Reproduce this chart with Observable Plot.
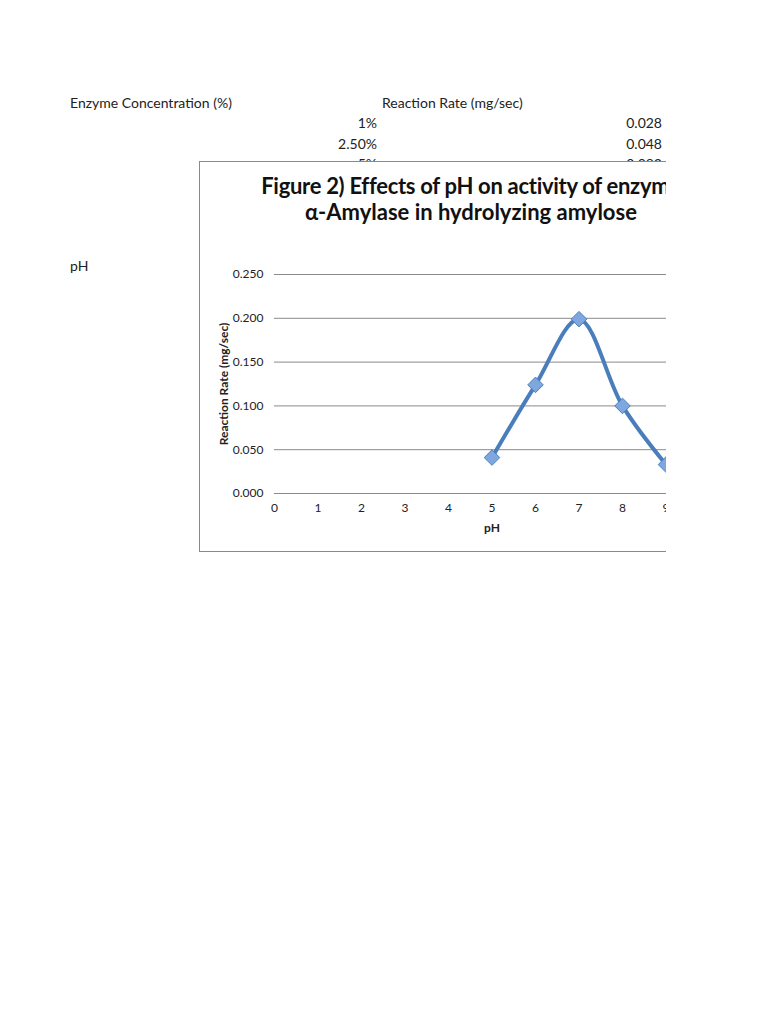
<!DOCTYPE html>
<html><head><meta charset="utf-8">
<script src="https://cdn.jsdelivr.net/npm/d3@7"></script>
<script src="https://cdn.jsdelivr.net/npm/@observablehq/plot@0.6"></script>
<style>
body{margin:0;background:#fff;font-family:Lato,"Open Sans",sans-serif;color:#222;}
.t{position:absolute;font-size:14px;white-space:nowrap;}
.r{text-align:right;}
#box{position:absolute;left:199px;top:161px;width:466px;height:389px;border-left:1px solid #8a8a8a;border-top:1px solid #8a8a8a;border-bottom:1px solid #8a8a8a;background:#fff;overflow:hidden;}
#title{position:absolute;left:0;top:11px;width:542px;text-align:center;font-weight:bold;font-size:22px;line-height:26px;color:#111;white-space:nowrap;}
#title .l1{letter-spacing:-0.3px;}
#chart{position:absolute;left:0;top:100px;max-width:none !important;}
</style></head>
<body>
<script>
const concLabels = ["1%", "2.50%", "5%"];
const concRates = ["0.028", "0.048", "0.083"];
const pH = [5, 6, 7, 8, 9];
const rate = [0.041, 0.124, 0.199, 0.100, 0.033];
const xTicks = [0,1,2,3,4,5,6,7,8,9,10];
const yTicks = [0, 0.05, 0.10, 0.15, 0.20, 0.25];

function addText(txt, left, top, cls, width){
  const d = document.createElement("div");
  d.className = "t " + (cls||"");
  d.textContent = txt;
  d.style.top = top + "px";
  if (cls === "r") { d.style.left = (left - width) + "px"; d.style.width = width + "px"; }
  else d.style.left = left + "px";
  document.body.appendChild(d);
}
addText("Enzyme Concentration (%)", 70, 94);
addText("Reaction Rate (mg/sec)", 382, 94);
concLabels.forEach((c,i)=>addText(c, 377, 114 + i*20.5, "r", 80));
concRates.forEach((c,i)=>addText(c, 662, 114 + i*20.5, "r", 80));
addText("pH", 70, 257);

const box = document.createElement("div");
box.id = "box";
box.innerHTML = '<div id="title"><span class="l1">Figure 2) Effects of pH on activity of enzyme</span><br>α-Amylase in hydrolyzing amylose</div>';
document.body.appendChild(box);

const data = pH.map((p,i)=>({pH:p, rate:rate[i]}));
const chart = Plot.plot({
  width: 542, height: 290,
  marginLeft: 74, marginRight: 33, marginTop: 12, marginBottom: 59,
  style: {fontFamily: "Lato, 'Open Sans', sans-serif", fontSize: "12px", color: "#222", background: "transparent"},
  x: {domain: [0, 10], ticks: xTicks, tickSize: 0, tickPadding: 10, label: null},
  y: {domain: [0, 0.25], ticks: yTicks, tickSize: 0, tickPadding: 11, tickFormat: d3.format(".3f"), label: null},
  marks: [
    Plot.ruleY(yTicks, {stroke: "#8a8a8a", strokeWidth: 1}),
    Plot.line(data, {x: "pH", y: "rate", curve: "catmull-rom", stroke: "#4a7ebb", strokeWidth: 4}),
    Plot.dot(data, {x: "pH", y: "rate", symbol: "diamond2", r: 7, fill: "#7ea6df", stroke: "#4a7ebb", strokeWidth: 1}),
    Plot.text(["pH"], {frameAnchor: "bottom", x: 5, dy: 38, fontWeight: "bold", fontSize: 12, fill: "#222"}),
    Plot.text(["Reaction Rate (mg/sec)"], {frameAnchor: "left", dx: -50, rotate: -90, textAnchor: "middle", fontWeight: "bold", fontSize: 12, fill: "#222"})
  ]
});
chart.id = "chart";
chart.style.maxWidth = "none";
box.appendChild(chart);
</script>
</body></html>
